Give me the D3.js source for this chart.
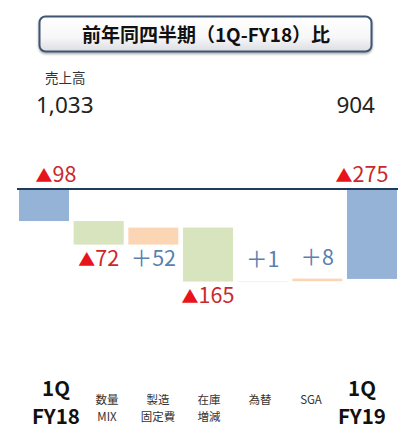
<!DOCTYPE html>
<html>
<head>
<meta charset="utf-8">
<script src="https://cdn.jsdelivr.net/npm/d3@7"></script>
<style>
  body { margin: 0; background: #fff; }
  text { font-family: "Noto Sans CJK JP", "Noto Sans", sans-serif; }
</style>
</head>
<body>
<div id="chart"></div>
<script>
// DATA //
let categories = ["fy18", "mix", "fixed", "inventory", "fx", "sga", "fy19"];
let labelLines = [["1Q", "FY18"], ["数量", "MIX"], ["製造", "固定費"], ["在庫", "増減"], ["為替"], ["SGA"], ["1Q", "FY19"]];
let deltas = [-98, -72, 52, -165, 1, 8, -275];
let kinds = ["total", "step", "step", "step", "step", "step", "total"];
let salesTitle = "売上高";
let sales = [1033, 904];
let title = "前年同四半期（1Q-FY18）比";

// colours per category
let fills = ["#95b3d7", "#d7e4bd", "#fcd5b5", "#d7e4bd", "#fcd5b5", "#fcd5b5", "#95b3d7"];

// DIMENSIONS //
let width = 414, height = 441;

let svg = d3.select("#chart")
    .append("svg")
    .attr("width", width)
    .attr("height", height);

// waterfall running totals
let rows = [];
let run = 0;
categories.forEach((c, i) => {
    let start, end;
    if (kinds[i] == "total") { start = 0; end = deltas[i]; run = deltas[i]; }
    else { start = run; end = run + deltas[i]; run = end; }
    rows.push({cat: c, value: deltas[i], start: start, end: end, kind: kinds[i], fill: fills[i], lines: labelLines[i]});
});

// SCALES //
let xScale = d3.scaleBand()
    .domain(categories)
    .range([19, 397])
    .paddingInner(0.085)
    .paddingOuter(0);

let yScale = d3.scaleLinear()
    .domain([-300, 0])
    .range([189 + 300 * 0.327, 189]);

// label positions along the bottom (and totals' value labels)
let labelScale = d3.scalePoint()
    .domain(categories)
    .range([56, 362]);

// TITLE BOX //
let defs = svg.append("defs");
let grad = defs.append("linearGradient").attr("id", "tgrad").attr("x1", 0).attr("y1", 0).attr("x2", 0).attr("y2", 1);
grad.append("stop").attr("offset", "0%").attr("stop-color", "#ffffff");
grad.append("stop").attr("offset", "60%").attr("stop-color", "#f7f7f9");
grad.append("stop").attr("offset", "100%").attr("stop-color", "#dcdde2");
let shadow = defs.append("filter").attr("id", "shadow").attr("x", "-10%").attr("y", "-20%").attr("width", "120%").attr("height", "150%");
shadow.append("feDropShadow").attr("dx", 0).attr("dy", 1.5).attr("stdDeviation", 1.2).attr("flood-color", "#000").attr("flood-opacity", 0.35);

svg.append("rect")
    .attr("x", 39.5).attr("y", 16.5)
    .attr("width", 332).attr("height", 35)
    .attr("rx", 6)
    .attr("fill", "url(#tgrad)")
    .attr("stroke", "#3f5573")
    .attr("stroke-width", 2)
    .attr("filter", "url(#shadow)");

svg.append("text")
    .attr("x", 206).attr("y", 41.5)
    .attr("text-anchor", "middle")
    .attr("font-size", 19)
    .attr("font-weight", "bold")
    .attr("fill", "#111")
    .text(title);

// SALES //
svg.append("text")
    .attr("x", 45).attr("y", 83)
    .attr("font-size", 13.5)
    .attr("fill", "#333")
    .text(salesTitle);

svg.selectAll("text.sales")
    .data(sales)
    .enter()
    .append("text")
    .attr("class", "sales")
    .attr("x", (d, i) => i == 0 ? 36 : 375)
    .attr("y", 113)
    .attr("text-anchor", (d, i) => i == 0 ? "start" : "end")
    .style("font-family", "'Noto Sans', sans-serif")
    .attr("font-size", 22.5)
    .attr("fill", "#222")
    .text(d => d3.format(",")(d));

// BARS //
svg.selectAll("rect.bar")
    .data(rows)
    .enter()
    .append("rect")
    .attr("class", "bar")
    .attr("x", d => xScale(d.cat))
    .attr("width", xScale.bandwidth())
    .attr("y", d => yScale(Math.max(d.start, d.end)))
    .attr("height", d => Math.max(1, Math.abs(yScale(d.start) - yScale(d.end))))
    .attr("fill", d => d.fill)
    .attr("opacity", d => Math.abs(yScale(d.start) - yScale(d.end)) < 1 ? 0.4 : 1);

// zero line
svg.append("line")
    .attr("x1", 17).attr("x2", 398)
    .attr("y1", yScale(0)).attr("y2", yScale(0))
    .attr("stroke", "#1f3b5c")
    .attr("stroke-width", 2.2);

// VALUE LABELS //
let valueLabels = svg.selectAll("text.val")
    .data(rows)
    .enter()
    .append("text")
    .attr("class", "val")
    .attr("font-size", 21.5)
    .attr("text-anchor", "middle")
    .attr("x", d => d.kind == "total" ? labelScale(d.cat) : xScale(d.cat) + xScale.bandwidth() / 2)
    .attr("y", d => {
        if (d.kind == "total") return yScale(0) - 7;
        let top = yScale(Math.max(d.start, d.end)), bottom = yScale(Math.min(d.start, d.end));
        if (bottom - top < 5) return top - 14;
        return bottom + 21;
    });

valueLabels.append("tspan")
    .attr("fill", d => d.value < 0 ? "#e8141b" : "#5a80b0")
    .attr("font-size", d => d.value < 0 ? 17 : 21.5)
    .text(d => d.value < 0 ? "▲" : "＋");

valueLabels.append("tspan")
    .attr("fill", d => d.value < 0 ? "#c9282d" : "#5a80b0")
    .text(d => Math.abs(d.value));

// CATEGORY LABELS //
rows.forEach(d => {
    let big = d.kind == "total";
    let t = svg.append("text")
        .attr("text-anchor", "middle")
        .attr("font-size", big ? 20.5 : 11.5)
        .attr("font-weight", big ? "bold" : "normal")
        .attr("fill", big ? "#111" : "#333");
    d.lines.forEach((line, j) => {
        t.append("tspan")
            .attr("x", labelScale(d.cat))
            .attr("y", big ? 396 + j * 28 : 404 + j * 17)
            .text(line);
    });
});
</script>
</body>
</html>
